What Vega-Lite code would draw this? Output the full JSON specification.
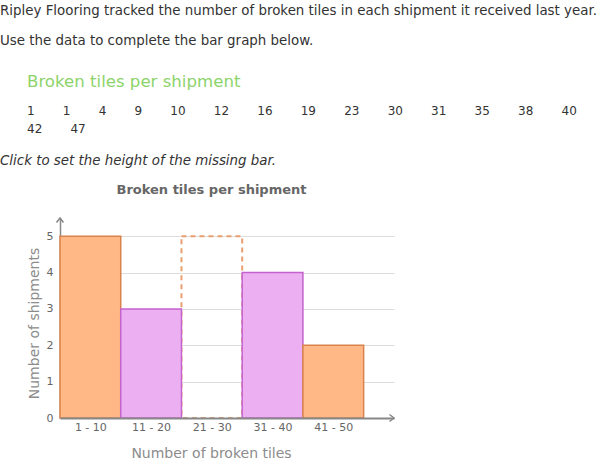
{
  "$schema": "https://vega.github.io/schema/vega-lite/v6.json",
  "background": "white",
  "padding": {"left": 0, "top": 4, "right": 0, "bottom": 0},
  "config": {
    "font": "DejaVu Sans",
    "view": {"stroke": null},
    "concat": {"spacing": 13}
  },
  "title": {
    "text": [
      "Ripley Flooring tracked the number of broken tiles in each shipment it received last year.",
      "Use the data to complete the bar graph below."
    ],
    "anchor": "start",
    "frame": "bounds",
    "fontSize": 13.4,
    "fontWeight": "normal",
    "color": "#333333",
    "lineHeight": 30,
    "offset": 26
  },
  "vconcat": [
    {
      "width": 1,
      "height": 1,
      "title": {
        "text": "Broken tiles per shipment",
        "subtitle": [
          "\u2002\u2005\u200a1\u2002\u2002\u2002\u2002\u2005\u200a1\u2002\u2002\u2002\u2002\u2005\u200a4\u2002\u2002\u2002\u2002\u2005\u200a9\u2002\u2002\u2002\u2002\u2005\u200a10\u2002\u2002\u2002\u2002\u2005\u200a12\u2002\u2002\u2002\u2002\u2005\u200a16\u2002\u2002\u2002\u2002\u2005\u200a19\u2002\u2002\u2002\u2002\u2005\u200a23\u2002\u2002\u2002\u2002\u2005\u200a30\u2002\u2002\u2002\u2002\u2005\u200a31\u2002\u2002\u2002\u2002\u2005\u200a35\u2002\u2002\u2002\u2002\u2005\u200a38\u2002\u2002\u2002\u2002\u2005\u200a40",
          "\u2002\u2005\u200a42\u2002\u2002\u2002\u2002\u2005\u200a47"
        ],
        "anchor": "start",
        "frame": "group",
        "dx": -33,
        "fontSize": 16.6,
        "fontWeight": "normal",
        "color": "#8cd36b",
        "subtitleFontSize": 12,
        "subtitleColor": "#333333",
        "subtitleLineHeight": 17.6,
        "subtitlePadding": 16,
        "offset": 4
      },
      "data": {"values": []},
      "mark": "text",
      "encoding": {}
    },
    {
      "width": 334,
      "height": 200,
      "title": {
        "text": "Click to set the height of the missing bar.",
        "anchor": "start",
        "frame": "group",
        "dx": -60,
        "fontSize": 13.4,
        "fontStyle": "italic",
        "fontWeight": "normal",
        "color": "#333333",
        "offset": 16
      },
      "data": {
        "values": [
          {"range": "1 - 10", "lo": 0, "hi": 10, "count": 5},
          {"range": "11 - 20", "lo": 10, "hi": 20, "count": 3},
          {"range": "21 - 30", "lo": 20, "hi": 30, "count": null, "placeholder": 5},
          {"range": "31 - 40", "lo": 30, "hi": 40, "count": 4},
          {"range": "41 - 50", "lo": 40, "hi": 50, "count": 2}
        ]
      },
      "resolve": {"axis": {"x": "independent", "y": "independent"}},
      "layer": [
        {
          "transform": [{"filter": "datum.placeholder != null"}],
          "mark": {
            "type": "rect",
            "fill": "transparent",
            "stroke": "#e8a070",
            "strokeWidth": 2,
            "strokeDash": [5, 4]
          },
          "encoding": {
            "x": {
              "field": "lo",
              "type": "quantitative",
              "scale": {"domain": [0, 55], "nice": false},
              "axis": {
                "orient": "top",
                "title": "Broken tiles per shipment",
                "labels": false,
                "ticks": false,
                "domain": false,
                "grid": false,
                "titleFontSize": 13,
                "titleFontWeight": "bold",
                "titleColor": "#666666",
                "titlePadding": 22,
                "titleX": 151
              }
            },
            "x2": {"field": "hi"},
            "y": {
              "field": "placeholder",
              "type": "quantitative",
              "scale": {"domain": [0, 5.5], "nice": false},
              "axis": {
                "values": [0, 1, 2, 3, 4, 5],
                "title": "Number of shipments",
                "grid": true,
                "gridColor": "#dddddd",
                "ticks": false,
                "domainColor": "#888888",
                "domainWidth": 1.5,
                "labelColor": "#666666",
                "labelFontSize": 11,
                "labelPadding": 7,
                "titleColor": "#8c8c8c",
                "titleFontSize": 14,
                "titleFontWeight": "normal",
                "titlePadding": 5,
                "titleY": 105
              }
            },
            "y2": {"datum": 0}
          }
        },
        {
          "transform": [{"filter": "datum.count != null"}],
          "mark": {"type": "rect", "strokeWidth": 1.5},
          "encoding": {
            "x": {
              "field": "lo",
              "type": "quantitative",
              "axis": {
                "orient": "bottom",
                "values": [5, 15, 25, 35, 45],
                "labelExpr": "(datum.value - 4) + ' - ' + (datum.value + 5)",
                "title": "Number of broken tiles",
                "grid": false,
                "ticks": false,
                "domainColor": "#888888",
                "domainWidth": 2,
                "labelColor": "#666666",
                "labelFontSize": 11,
                "labelPadding": 3,
                "titleColor": "#8c8c8c",
                "titleFontSize": 14,
                "titleFontWeight": "normal",
                "titlePadding": 14,
                "titleX": 151,
                "zindex": 1
              }
            },
            "x2": {"field": "hi"},
            "y": {"field": "count", "type": "quantitative", "axis": null},
            "y2": {"datum": 0},
            "fill": {
              "condition": {"test": "datum.lo % 20 === 0", "value": "#ffb886"},
              "value": "#ebaff2"
            },
            "stroke": {
              "condition": {"test": "datum.lo % 20 === 0", "value": "#d8834c"},
              "value": "#c562ce"
            }
          }
        },
        {
          "data": {"values": [{}]},
          "mark": {
            "type": "point",
            "shape": "M-0.7,0.9L0,0L0.7,0.9",
            "filled": false,
            "stroke": "#888888",
            "strokeWidth": 1.5,
            "size": 100,
            "opacity": 1
          },
          "encoding": {
            "x": {"datum": 0, "type": "quantitative", "axis": null},
            "y": {"datum": 5.5, "type": "quantitative", "axis": null}
          }
        },
        {
          "data": {"values": [{}]},
          "mark": {
            "type": "point",
            "shape": "M-0.9,-0.7L0,0L-0.9,0.7",
            "filled": false,
            "stroke": "#888888",
            "strokeWidth": 1.5,
            "size": 100,
            "opacity": 1
          },
          "encoding": {
            "x": {"datum": 55, "type": "quantitative", "axis": null},
            "y": {"datum": 0, "type": "quantitative", "axis": null}
          }
        }
      ]
    }
  ]
}
